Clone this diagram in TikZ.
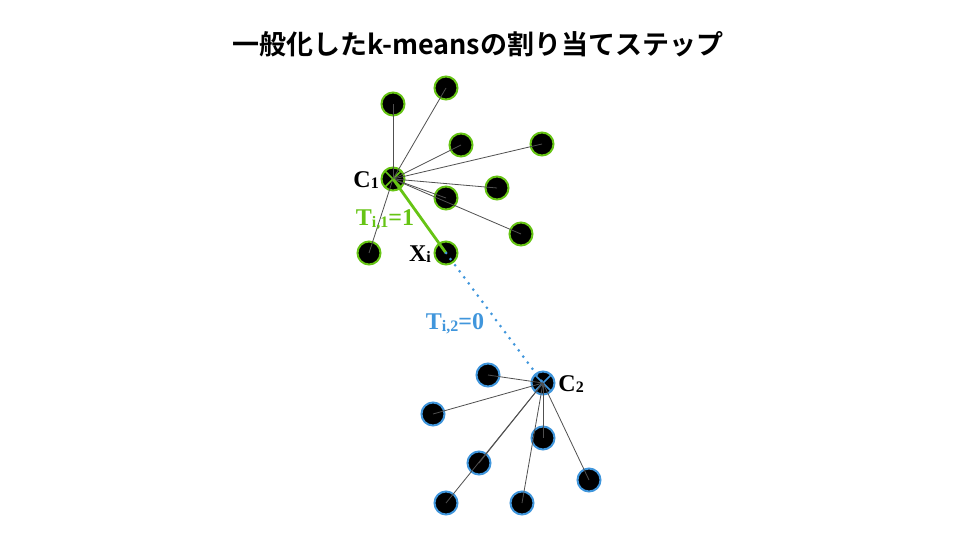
\documentclass[tikz,border=0pt]{standalone}
\usepackage{fontspec}
\setmainfont{Liberation Serif}
\newfontfamily\jpfont{Noto Sans CJK JP}[BoldFont={Noto Sans CJK JP Bold}]
\definecolor{grn}{RGB}{102,196,20}
\definecolor{blu}{RGB}{64,150,220}
\definecolor{edgegray}{RGB}{80,80,80}
\tikzset{
  pt/.style={circle, fill=black, draw=#1, line width=2pt, minimum size=23pt, inner sep=0pt},
  ctr/.style={pt=#1, path picture={
     \draw[#1, line width=1.6pt] (path picture bounding box.north west) -- (path picture bounding box.south east)
       (path picture bounding box.north east) -- (path picture bounding box.south west);}},
  edge/.style={draw=edgegray, line width=0.8pt},
  lbl/.style={font=\fontsize{24}{24}\selectfont\bfseries, inner sep=0pt},
}
\newcommand{\sbs}[1]{\raisebox{-1.5pt}{\fontsize{16}{16}\selectfont #1}}
\begin{document}
\begin{tikzpicture}[x=1pt,y=-1pt]
\useasboundingbox (0,0) rectangle (960,540);
\fill[white] (0,0) rectangle (960,540);
\node[font=\jpfont\bfseries\fontsize{27}{27}\selectfont, inner sep=0pt] (title) at (478,44) {一般化したk-meansの割り当てステップ};
% cluster 1
\node[ctr=grn] (c1) at (393,179) {};
\node[pt=grn] (a1) at (393,104) {};
\node[pt=grn] (a2) at (446,88) {};
\node[pt=grn] (a3) at (461,145) {};
\node[pt=grn] (a4) at (542,144) {};
\node[pt=grn] (a5) at (497,188) {};
\node[pt=grn] (a6) at (446,198) {};
\node[pt=grn] (a7) at (521,234) {};
\node[pt=grn] (a8) at (369,253) {};
\node[pt=grn] (xi) at (446,253) {};
% cluster 2
\node[ctr=blu] (c2) at (543,383) {};
\node[pt=blu] (b1) at (488,375) {};
\node[pt=blu] (b2) at (433,414) {};
\node[pt=blu] (b3) at (543,438) {};
\node[pt=blu] (b4) at (479,463) {};
\node[pt=blu] (b5) at (589,480) {};
\node[pt=blu] (b6) at (446,503) {};
\node[pt=blu] (b7) at (522,503) {};
% edges
\foreach \n in {a1,a2,a3,a4,a5,a6,a7,a8} \draw[edge] (c1.center) -- (\n.center);
\foreach \n in {b1,b2,b3,b4,b5,b6,b7} \draw[edge] (c2.center) -- (\n.center);
\draw[grn, line width=2.8pt] (c1.center) -- (xi.center);
\draw[blu, line width=3pt, line cap=round, dash pattern=on 0pt off 7.6pt] (xi.center) -- (c2.center);
% labels
\node[lbl, anchor=east] (lc1) at (379,180) {C\sbs{1}};
\node[lbl, anchor=east] (lxi) at (431,254) {X\sbs{i}};
\node[lbl, anchor=east] (lc2) at (584,384) {C\sbs{2}};
\node[lbl, text=grn] (lt1) at (385,220) {T\sbs{i,1}=1};
\node[lbl, text=blu] (lt2) at (455,324) {T\sbs{i,2}=0};
\end{tikzpicture}
\end{document}
